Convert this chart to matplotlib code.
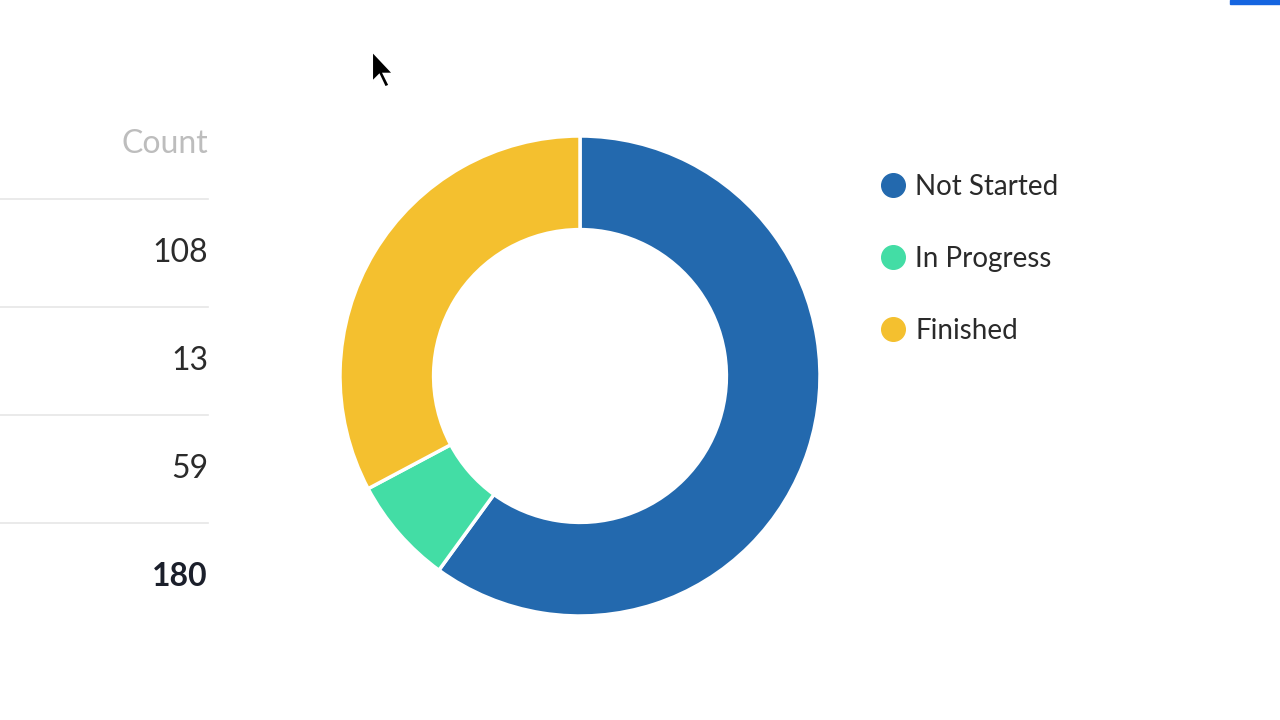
import matplotlib.pyplot as plt
from matplotlib.patches import Rectangle, Polygon

# data
categories = ["Not Started", "In Progress", "Finished"]
counts = [108, 13, 59]
colors = ["#2369AE", "#43DDA5", "#F4C02F"]
total = sum(counts)

plt.rcParams['font.family'] = ['Lato', 'DejaVu Sans']

W, H = 1280, 720
fig = plt.figure(figsize=(12.8, 7.2), dpi=100)
fig.patch.set_facecolor("white")

def fx(x):
    return x / W

def fy(y):
    return 1 - y / H

# donut
R = 240
ax = fig.add_axes([fx(580 - 250), fy(376 + 250), 500 / W, 500 / H])
ax.pie(counts, colors=colors, startangle=90, counterclock=False, radius=1,
       wedgeprops=dict(width=0.39, edgecolor="white", linewidth=2.5))
lim = 250 / R
ax.set_xlim(-lim, lim)
ax.set_ylim(-lim, lim)
ax.set_aspect("equal")
ax.axis("off")

# table on the left (baselines)
fig.text(fx(208), fy(153), "Count", ha="right", va="baseline",
         fontsize=23, color="#BDBDBD")
row_base = [262, 370, 478]
for y, c in zip(row_base, counts):
    fig.text(fx(208), fy(y), str(c), ha="right", va="baseline",
             fontsize=23, color="#2B2B2B")
fig.text(fx(208), fy(586), str(total), ha="right", va="baseline",
         fontsize=23, color="#1B1F2B", fontweight="bold")
for y in [199, 307, 415, 523]:
    fig.add_artist(plt.Line2D([0, fx(208)], [fy(y), fy(y)],
                              color="#E6E6E6", lw=1.2))

# legend
leg_y = [185, 257, 329]
for y, name, col in zip(leg_y, categories, colors):
    fig.add_artist(plt.Line2D([fx(893)], [fy(y)], marker="o", markersize=17,
                              color=col, lw=0))
    fig.text(fx(915), fy(y + 10), name, ha="left", va="baseline",
             fontsize=20, color="#2A2A2A")

# small blue bar in the top right corner
fig.add_artist(Rectangle((fx(1230), fy(4)), 50 / W, 4 / H,
                         color="#1565E0", transform=fig.transFigure))

# mouse cursor from the screen recording
tip_x, tip_y, s = 372, 51, 1.3
shape = [(0, 0), (0, 24), (5.5, 18.5), (10, 28), (13.5, 26.5), (9, 17.5), (16.5, 17.5)]
cursor = Polygon([(fx(tip_x + s * sx), fy(tip_y + s * sy)) for sx, sy in shape],
                 closed=True, facecolor="black", edgecolor="white", lw=1.5,
                 transform=fig.transFigure)
fig.add_artist(cursor)

fig.savefig("out.png", dpi=100)
